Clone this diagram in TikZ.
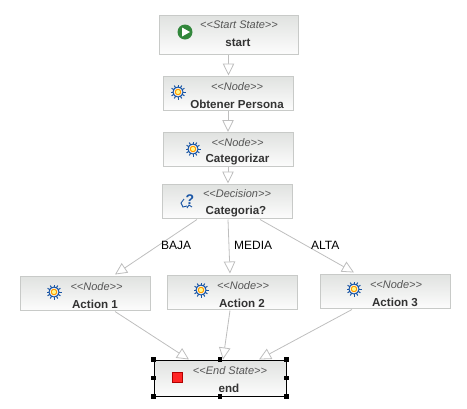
\documentclass[tikz,border=0pt]{standalone}
\usepackage{fontspec}
\setmainfont{Liberation Sans}
\usetikzlibrary{arrows.meta}
\definecolor{boxline}{RGB}{200,202,200}
\definecolor{boxtop}{RGB}{224,226,224}
\definecolor{boxbottom}{RGB}{252,252,252}
\definecolor{flowline}{RGB}{190,190,190}
\definecolor{stereo}{RGB}{85,85,85}
\definecolor{gearblue}{RGB}{25,85,165}
\definecolor{startgreen}{RGB}{50,135,60}
\tikzset{
  statebox/.style={draw=boxline,line width=1pt,top color=boxtop,bottom color=boxbottom,
    minimum width=#1,inner sep=0pt,anchor=center},
  stereotype/.style={font=\fontsize{11}{11}\selectfont\itshape,text=stereo,inner sep=0pt},
  statename/.style={font=\fontsize{11.6}{11.6}\selectfont\bfseries,text=black!80,inner sep=0pt},
  flow/.style={draw=flowline,line width=.8pt,-{Triangle[open,fill=white,length=12pt,width=11.5pt]}},
  flowlabel/.style={font=\fontsize{12}{12}\selectfont,inner sep=0pt},
  handle/.style={fill=black,draw=none,minimum size=4.5pt,inner sep=0pt}
}
\newcommand{\gearicon}[2]{%
  \foreach \a in {0,30,...,330}
    \draw[gearblue,line width=1pt] (#1,#2)+(\a:4.5pt) -- +(\a:7.5pt);
  \draw[gearblue,fill=white,line width=1pt] (#1,#2) circle (5pt);
  \draw[orange!80!yellow,fill=yellow!45!white,line width=1pt] (#1,#2) circle (2.8pt);
}
\begin{document}
\begin{tikzpicture}[x=1pt,y=-1pt]
\useasboundingbox (0,0) rectangle (467,408);
% boxes
\node[statebox=139pt,minimum height=39pt] (start) at (228.5,34.5) {};
\node[statebox=130pt,minimum height=34pt] (obtener) at (228,93) {};
\node[statebox=130pt,minimum height=34pt] (categorizar) at (228,149.5) {};
\node[statebox=130pt,minimum height=34pt] (decision) at (227,201) {};
\node[statebox=130pt,minimum height=34pt] (action1) at (85.5,293) {};
\node[statebox=130pt,minimum height=34pt] (action2) at (232,292) {};
\node[statebox=130pt,minimum height=34pt] (action3) at (385,291) {};
\node[statebox=132pt,minimum height=36pt,draw=black] (end) at (220,378) {};
% texts
\node[stereotype] (startst) at (239,25) {<{}<Start State>{}>};
\node[statename] (startnm) at (238,43) {start};
\node[stereotype] (obtenerst) at (237,87) {<{}<Node>{}>};
\node[statename] (obtenernm) at (237,104) {Obtener Persona};
\node[stereotype] (categorizarst) at (237.5,143) {<{}<Node>{}>};
\node[statename] (categorizarnm) at (237.5,159.5) {Categorizar};
\node[stereotype] (decisionst) at (237,194) {<{}<Decision>{}>};
\node[statename] (decisionnm) at (236,212) {Categoria?};
\node[stereotype] (action1st) at (96.5,287) {<{}<Node>{}>};
\node[statename] (action1nm) at (95,304) {Action 1};
\node[stereotype] (action2st) at (243,286) {<{}<Node>{}>};
\node[statename] (action2nm) at (242,303) {Action 2};
\node[stereotype] (action3st) at (396,285) {<{}<Node>{}>};
\node[statename] (action3nm) at (395,302) {Action 3};
\node[stereotype] (endst) at (230,371) {<{}<End State>{}>};
\node[statename] (endnm) at (229,388) {end};
% icons
\fill[startgreen] (185,32) circle (7.5pt);
\fill[white] (182,27.5) -- (190,32) -- (182,36.5) -- cycle;
\gearicon{178}{92}
\gearicon{193}{149}
\gearicon{54}{292}
\gearicon{201}{290}
\gearicon{354}{289}
\draw[gearblue,line width=.9pt] (184,199) -- (181,203) -- (183,207) -- (187,206) (187,208) -- (189,205) -- (192,207);
\node[font=\fontsize{14}{14}\selectfont\bfseries,text=gearblue,inner sep=0pt] (decisionic) at (190,200) {?};
\node[draw=red!70!black,fill=red!85!white,minimum size=10pt,inner sep=0pt] (endic) at (177,377) {};
% connectors
\draw[flow] (start.south) -- (start.south|-obtener.north);
\draw[flow] (obtener.south) -- (categorizar.north);
\draw[flow] (categorizar.south) -- (categorizar.south|-decision.north);
\draw[flow] ([xshift=-30pt,yshift=-1pt]decision.south) -- ([xshift=29.5pt,yshift=1pt]action1.north);
\draw[flow] ([xshift=1pt,yshift=-1pt]decision.south) -- ([xshift=-2pt,yshift=1pt]action2.north);
\draw[flow] ([xshift=33pt,yshift=-1pt]decision.south) -- ([xshift=-31pt,yshift=1pt]action3.north);
\draw[flow] ([xshift=29.5pt,yshift=-1pt]action1.south) -- ([xshift=-31pt]end.north);
\draw[flow] ([xshift=-2pt,yshift=-1pt]action2.south) -- ([xshift=3pt]end.north);
\draw[flow] ([xshift=-33pt,yshift=-1pt]action3.south) -- ([xshift=39pt]end.north);
% labels
\node[flowlabel,anchor=west] (baja) at (161,245) {BAJA};
\node[flowlabel,anchor=west] (media) at (234,245) {MEDIA};
\node[flowlabel,anchor=west] (alta) at (311,245) {ALTA};
% selection handles
\foreach \p in {north west,north,north east,west,east,south west,south,south east}
  \node[handle] at (end.\p) {};
\end{tikzpicture}
\end{document}
